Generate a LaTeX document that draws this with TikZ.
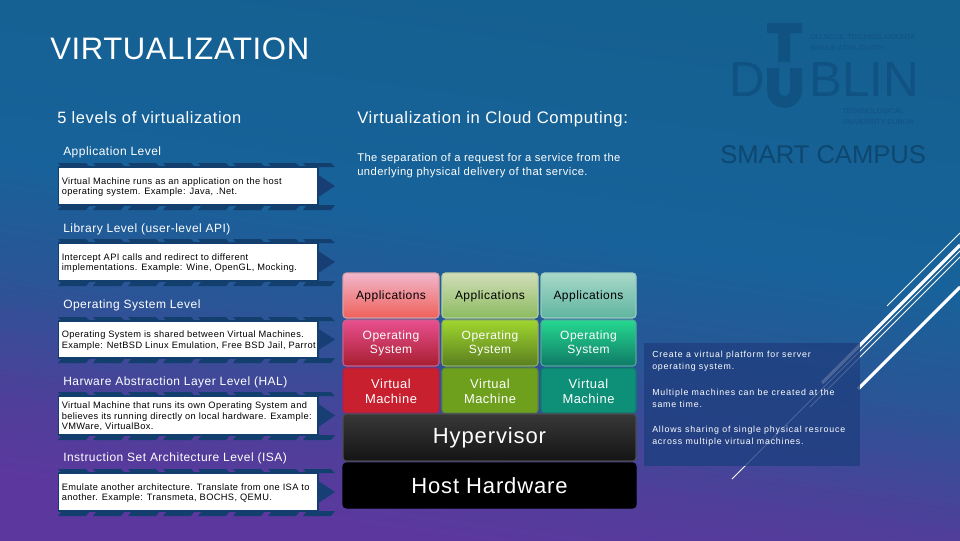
\documentclass[tikz,border=0pt]{standalone}
\usepackage{fontspec}
\setmainfont{Liberation Sans}
\newfontfamily\wide[LetterSpace=4]{Liberation Sans}
\newfontfamily\wider[LetterSpace=9.5]{Liberation Sans}
\newfontfamily\titlef[LetterSpace=2]{Liberation Sans}
\usetikzlibrary{calc}
\definecolor{bandc}{HTML}{123F6E}
\definecolor{trianglec}{HTML}{173F75}
\definecolor{logoc}{HTML}{105383}
\definecolor{panelc}{HTML}{1F3F80}
\definecolor{HTMLbot}{HTML}{5C389E}
\definecolor{HTMLa}{HTML}{4F3F9A}
\definecolor{HTMLb}{HTML}{2A5596}
\definecolor{HTMLc}{HTML}{17629A}
\definecolor{HTMLtop}{HTML}{14608F}
\pgfdeclareverticalshading{slidebg}{100bp}{
 color(0bp)=(HTMLbot); color(27bp)=(HTMLbot); color(33.5bp)=(HTMLa); color(44bp)=(HTMLb);
 color(54bp)=(HTMLc); color(75bp)=(HTMLtop); color(100bp)=(HTMLtop)}
\tikzset{
 x=0.75pt,y=-0.75pt,
 titletext/.style={anchor=west,inner sep=0,text=white,font=\titlef\fontsize{23.3pt}{26pt}\selectfont},
 bighead/.style={anchor=west,inner sep=0,text=white,font=\wide\fontsize{12.3pt}{14pt}\selectfont},
 bigheadb/.style={bighead,font=\wide\fontsize{12.5pt}{14pt}\selectfont},
 heading/.style={anchor=west,inner sep=0,text=white,font=\wide\fontsize{9pt}{11pt}\selectfont},
 paratext/.style={anchor=north west,inner sep=0,text=white,align=left,font=\wide\fontsize{8.4pt}{10.5pt}\selectfont},
 boxtext/.style={anchor=west,inner sep=0,text=black,align=left,font=\wide\fontsize{6.95pt}{8pt}\selectfont},
 sidetext/.style={anchor=west,inner sep=0,text=white,align=left,font=\wider\fontsize{6.6pt}{9pt}\selectfont},
 stackbox/.style={rounded corners=2.5pt,draw=#1,line width=0.8pt},
 stacklabel/.style={inner sep=0,align=center,font=\wide\fontsize{9pt}{10.6pt}\selectfont},
 vmlabel/.style={font=\wide\fontsize{9.7pt}{11pt}\selectfont},
 biglabel/.style={text=white,inner sep=0,font=\wide\fontsize{16.5pt}{18pt}\selectfont},
 logotext/.style={anchor=west,inner sep=0,text=logoc,align=left,font=\fontsize{5.4pt}{8pt}\selectfont},
 logobig/.style={anchor=center,inner sep=0,text=logoc,font=\fontsize{37pt}{37pt}\selectfont},
 diagline/.style={white,line width=0.6pt},
 diagthick/.style={white,line width=2.4pt},
}
\newcommand{\levelbox}[4]{%
 \fill[bandc] (58,#1-2) rectangle (319,#2+2);
 \fill[trianglec] (317,#1+6) -- (335,{(#1+#2)/2}) -- (317,#2-6) -- cycle;
 \foreach \k in {0,...,7}{
  \fill[bandc] ({58+35*\k},#1-5) -- ({86+35*\k},#1-5) -- ({90+35*\k},#1-1) -- ({62+35*\k},#1-1) -- cycle;
  \fill[bandc] ({62+35*\k},#2+1) -- ({90+35*\k},#2+1) -- ({86+35*\k},#2+6) -- ({58+35*\k},#2+6) -- cycle;
 }
 \fill[white] (59,#1) rectangle (317,#2);
 \node[boxtext] (#3) at (61.5,{(#1+#2)/2+1}) {#4};
}
\newcommand{\stackcell}[9]{%
 \definecolor{cellt}{HTML}{#5}\definecolor{cellb}{HTML}{#6}\definecolor{celle}{HTML}{#7}%
 \draw[stackbox=celle,top color=cellt,bottom color=cellb] (#1,#2) rectangle (#3,#4);
 \node[stacklabel,text=#9] at ({(#1+#3)/2},{(#2+#4)/2+0.7}) {#8};
}
\begin{document}
\begin{tikzpicture}
\useasboundingbox (0,0) rectangle (960,540);
\shade[shading=slidebg,shading angle=-8] (0,0) rectangle (960,540);
% diagonal lines
\draw[diagline] (887,306) -- (960,233);
\draw[diagthick] (822,383) -- (960,245);
\draw[diagline] (810,407) -- (960,257);
\draw[diagline] (732,479) -- (960,251);
\draw[diagthick] (858,389) -- (960,287);
% side panel
\fill[panelc,fill opacity=0.8] (644,343) rectangle (860,466);
\node[sidetext] (s1) at (652,361) {Create a virtual platform for server\\operating system.};
\node[sidetext] (s2) at (652,398) {Multiple machines can be created at the\\same time.};
\node[sidetext] (s3) at (652,436.5) {Allows sharing of single physical resrouce\\across multiple virtual machines.};
% title
\node[titletext] (title) at (50,49) {VIRTUALIZATION};
\node[bighead] (h1) at (57,118) {5 levels of virtualization};
\node[bigheadb] (h2) at (357,119) {Virtualization in Cloud Computing:};
\node[paratext] (para) at (357,153.5) {The separation of a request for a service from the\\underlying physical delivery of that service.};
% levels
\node[heading] (l1) at (63,152) {Application Level};
\levelbox{168}{204}{b1}{Virtual Machine runs as an application on the host\\operating system. Example: Java, .Net.}
\node[heading] (l2) at (63,229) {Library Level (user-level API)};
\levelbox{244}{280}{b2}{Intercept API calls and redirect to different\\implementations. Example: Wine, OpenGL, Mocking.}
\node[heading] (l3) at (63,305) {Operating System Level};
\levelbox{322}{357}{b3}{Operating System is shared between Virtual Machines.\\Example: NetBSD Linux Emulation, Free BSD Jail, Parrot}
\node[heading] (l4) at (63,382) {Harware Abstraction Layer Level (HAL)};
\levelbox{397}{434}{b4}{Virtual Machine that runs its own Operating System and\\believes its running directly on local hardware. Example:\\VMWare, VirtualBox.}
\node[heading] (l5) at (63,458) {Instruction Set Architecture Level (ISA)};
\levelbox{474}{510}{b5}{Emulate another architecture. Translate from one ISA to\\another. Example: Transmeta, BOCHS, QEMU.}
% stack
\stackcell{343}{273}{439}{318}{F0B8CC}{F0605A}{D8A0A8}{Applications}{black}
\stackcell{442}{273}{538}{318}{D0DDB8}{8DBB60}{B8D0A0}{Applications}{black}
\stackcell{541}{273}{636}{318}{A8D8C8}{5FB5A0}{98CCC0}{Applications}{black}
\stackcell{343}{320}{439}{366}{E8508F}{A81E30}{C86090}{Operating\\System}{white}
\stackcell{442}{320}{538}{366}{9FD62E}{5A7F20}{90B060}{Operating\\System}{white}
\stackcell{541}{320}{636}{366}{25D890}{0F7A66}{50A8A0}{Operating\\System}{white}
\stackcell{343}{368}{439}{413}{C8202F}{C8202F}{A8205A}{Virtual\\Machine}{white,vmlabel}
\stackcell{442}{368}{538}{413}{6EA01E}{6EA01E}{5A8A3A}{Virtual\\Machine}{white,vmlabel}
\stackcell{541}{368}{636}{413}{0E8F78}{0E8F78}{117A70}{Virtual\\Machine}{white,vmlabel}
\draw[stackbox=gray!60!black,top color=black!78,bottom color=black!92] (343,414) rectangle (636,461);
\node[biglabel] (hyp) at (489.5,438) {Hypervisor};
\draw[stackbox=black,fill=black] (343,463) rectangle (636,508);
\node[biglabel] (host) at (489.5,486) {Host Hardware};
% logo
\fill[logoc] (767,23) rectangle (802,33) (778,33) rectangle (790,62);
\draw[logoc,line width=9pt] (773,68) -- (773,90.5) arc[start angle=180,end angle=0,radius=11.5] -- (796,68);
\node[logobig] (logoD) at (747,80) {D};
\node[logobig,anchor=west] (logoB) at (809,80) {BLIN};
\node[logotext] (logo1) at (810,42) {OLLSCOIL TEICNEOLAÍOCHTA\\BHAILE ÁTHA CLIATH};
\node[logotext] (logo2) at (842,116.5) {TECHNOLOGICAL\\UNIVERSITY DUBLIN};
\node[inner sep=0,anchor=west,text=logoc!85!black,font=\fontsize{19.2pt}{22pt}\selectfont] (campus) at (720,155) {SMART CAMPUS};
\end{tikzpicture}
\end{document}
